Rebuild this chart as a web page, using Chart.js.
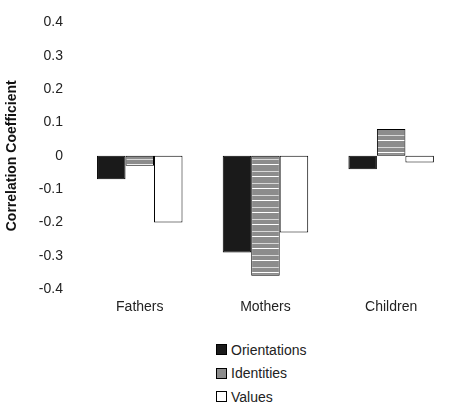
<!DOCTYPE html>
<html>
<head>
<script src="https://cdn.jsdelivr.net/npm/chart.js"></script>
<style>
  body { margin: 0; background: #fff; font-family: "Liberation Sans", Arial, sans-serif; }
  #wrap { position: relative; width: 474px; height: 330px; }
  #legend { position: absolute; left: 216px; top: 338px; font-size: 14px; color: #222; }
  #legend div { height: 23.5px; display: flex; align-items: center; }
  #legend span.box { display: inline-block; width: 9px; height: 9px; border: 1px solid #000; margin-right: 4px; }
</style>
</head>
<body>
<div id="wrap"><canvas id="chart" width="474" height="330"></canvas></div>
<div id="legend"></div>
<script>
const categories = ['Fathers', 'Mothers', 'Children'];
const seriesNames = ['Orientations', 'Identities', 'Values'];
const orientations = [-0.07, -0.29, -0.04];
const identities = [-0.03, -0.36, 0.08];
const values = [-0.2, -0.23, -0.02];
const yTicks = [0.4, 0.3, 0.2, 0.1, 0, -0.1, -0.2, -0.3, -0.4];

function stripes() {
  const c = document.createElement('canvas');
  c.width = 8; c.height = 12;
  const g = c.getContext('2d');
  g.fillStyle = '#8c8c8c'; g.fillRect(0, 0, 8, 12);
  g.fillStyle = '#d8d8d8'; g.fillRect(0, 3, 8, 1);
  g.fillStyle = '#ffffff'; g.fillRect(0, 8, 8, 1);
  return g.createPattern(c, 'repeat');
}
const fills = ['#1a1a1a', stripes(), '#ffffff'];
const legendFills = ['#1a1a1a', '#8c8c8c', '#ffffff'];

const legend = document.getElementById('legend');
seriesNames.forEach((n, i) => {
  legend.innerHTML += `<div><span class="box" style="background:${legendFills[i]}"></span>${n}</div>`;
});

new Chart(document.getElementById('chart'), {
  type: 'bar',
  data: {
    labels: categories,
    datasets: [orientations, identities, values].map((d, i) => ({
      label: seriesNames[i],
      data: d,
      backgroundColor: fills[i],
      borderColor: '#000',
      borderWidth: 1,
      borderSkipped: false,
      barPercentage: 1,
      categoryPercentage: 0.68
    }))
  },
  options: {
    responsive: false,
    animation: false,
    devicePixelRatio: 1,
    layout: { padding: { top: 20, right: 20, left: 0, bottom: 4 } },
    plugins: { legend: { display: false }, tooltip: { enabled: false } },
    scales: {
      x: {
        grid: { display: false, drawTicks: false },
        border: { display: false },
        ticks: { color: '#222', font: { size: 14, family: 'Liberation Sans' }, padding: 10 }
      },
      y: {
        min: -0.4, max: 0.4,
        afterBuildTicks: ax => { ax.ticks = yTicks.map(v => ({ value: v })); },
        grid: { display: false, drawTicks: false },
        border: { display: false },
        title: { display: true, text: 'Correlation Coefficient', color: '#111',
                 font: { size: 14, weight: 'bold', family: 'Liberation Sans' }, padding: 4 },
        ticks: { color: '#222', font: { size: 14, family: 'Liberation Sans' }, padding: 14,
                 callback: v => v === 0 ? '0' : (v < 0 ? '-' : '') + Math.abs(v).toFixed(1) }
      }
    }
  }
});
</script>
</body>
</html>
